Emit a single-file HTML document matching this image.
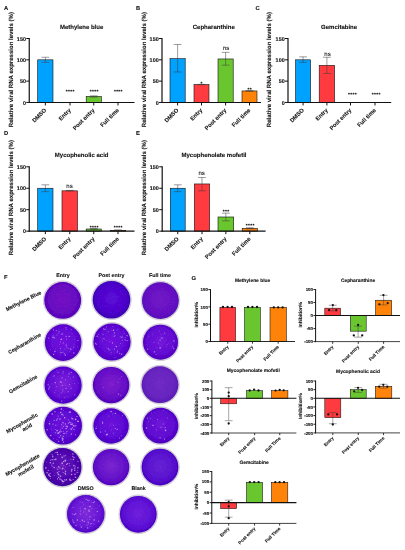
<!DOCTYPE html>
<html><head><meta charset="utf-8"><title>Figure</title>
<style>html,body{margin:0;padding:0;background:#fff}svg{display:block}text{font-family:"Liberation Sans",Arial,sans-serif;stroke:#111;stroke-width:0.1px;text-rendering:geometricPrecision}</style>
</head><body>
<svg width="405" height="550" viewBox="0 0 405 550">
<rect width="405" height="550" fill="#fff"/>
<text x="4.10" y="9.60" font-size="5.8" text-anchor="start" font-weight="bold" fill="#111" stroke="none">A</text>
<text x="13.00" y="69.60" font-size="6.05" text-anchor="middle" font-weight="bold" fill="#111" transform="rotate(-90 13.00 69.60)">Relative viral RNA expression levels (%)</text>
<text x="81.60" y="29.00" font-size="6.0" text-anchor="middle" font-weight="bold" fill="#111">Methylene blue</text>
<rect x="37.70" y="59.82" width="15.30" height="42.63" fill="#00a2ff" stroke="#111" stroke-width="0.6"/>
<line x1="45.35" y1="62.37" x2="45.35" y2="57.26" stroke="#3a3a3a" stroke-width="0.5"/>
<line x1="41.45" y1="62.37" x2="49.25" y2="62.37" stroke="#3a3a3a" stroke-width="0.5"/>
<line x1="41.45" y1="57.26" x2="49.25" y2="57.26" stroke="#3a3a3a" stroke-width="0.5"/>
<line x1="45.35" y1="102.45" x2="45.35" y2="105.45" stroke="#111" stroke-width="1.0"/>
<text x="46.65" y="110.65" font-size="5.75" text-anchor="end" font-weight="bold" fill="#111" transform="rotate(-45 46.65 110.65)">DMSO</text>
<line x1="70.00" y1="102.45" x2="70.00" y2="105.45" stroke="#111" stroke-width="1.0"/>
<text x="71.30" y="110.65" font-size="5.75" text-anchor="end" font-weight="bold" fill="#111" transform="rotate(-45 71.30 110.65)">Entry</text>
<rect x="86.20" y="96.48" width="15.10" height="5.97" fill="#6ac62e" stroke="#111" stroke-width="0.6"/>
<line x1="93.75" y1="97.12" x2="93.75" y2="95.84" stroke="#3a3a3a" stroke-width="0.5"/>
<line x1="89.85" y1="97.12" x2="97.65" y2="97.12" stroke="#3a3a3a" stroke-width="0.5"/>
<line x1="89.85" y1="95.84" x2="97.65" y2="95.84" stroke="#3a3a3a" stroke-width="0.5"/>
<line x1="93.75" y1="102.45" x2="93.75" y2="105.45" stroke="#111" stroke-width="1.0"/>
<text x="95.05" y="110.65" font-size="5.75" text-anchor="end" font-weight="bold" fill="#111" transform="rotate(-45 95.05 110.65)">Post entry</text>
<line x1="118.00" y1="102.45" x2="118.00" y2="105.45" stroke="#111" stroke-width="1.0"/>
<text x="119.30" y="110.65" font-size="5.75" text-anchor="end" font-weight="bold" fill="#111" transform="rotate(-45 119.30 110.65)">Full time</text>
<line x1="29.25" y1="37.95" x2="29.25" y2="103.00" stroke="#111" stroke-width="1.2"/>
<line x1="28.70" y1="102.45" x2="134.50" y2="102.45" stroke="#111" stroke-width="1.15"/>
<line x1="26.25" y1="102.45" x2="29.25" y2="102.45" stroke="#111" stroke-width="1.0"/>
<text x="25.95" y="104.60" font-size="5.45" text-anchor="end" font-weight="bold" fill="#111">0</text>
<line x1="26.25" y1="81.13" x2="29.25" y2="81.13" stroke="#111" stroke-width="1.0"/>
<text x="25.95" y="83.28" font-size="5.45" text-anchor="end" font-weight="bold" fill="#111">50</text>
<line x1="26.25" y1="59.82" x2="29.25" y2="59.82" stroke="#111" stroke-width="1.0"/>
<text x="25.95" y="61.97" font-size="5.45" text-anchor="end" font-weight="bold" fill="#111">100</text>
<line x1="26.25" y1="38.50" x2="29.25" y2="38.50" stroke="#111" stroke-width="1.0"/>
<text x="25.95" y="40.65" font-size="5.45" text-anchor="end" font-weight="bold" fill="#111">150</text>
<text x="70.18" y="93.33" font-size="4.8" text-anchor="middle" font-weight="bold" fill="#111" stroke="none" letter-spacing="0.35">****</text>
<text x="94.18" y="93.33" font-size="4.8" text-anchor="middle" font-weight="bold" fill="#111" stroke="none" letter-spacing="0.35">****</text>
<text x="118.38" y="93.33" font-size="4.8" text-anchor="middle" font-weight="bold" fill="#111" stroke="none" letter-spacing="0.35">****</text>
<text x="136.00" y="9.60" font-size="5.8" text-anchor="start" font-weight="bold" fill="#111" stroke="none">B</text>
<text x="146.00" y="69.60" font-size="6.05" text-anchor="middle" font-weight="bold" fill="#111" transform="rotate(-90 146.00 69.60)">Relative viral RNA expression levels (%)</text>
<text x="213.80" y="28.70" font-size="6.0" text-anchor="middle" font-weight="bold" fill="#111">Cepharanthine</text>
<rect x="170.00" y="58.67" width="15.20" height="43.78" fill="#00a2ff" stroke="#111" stroke-width="0.6"/>
<line x1="177.60" y1="71.97" x2="177.60" y2="44.47" stroke="#3a3a3a" stroke-width="0.5"/>
<line x1="173.70" y1="71.97" x2="181.50" y2="71.97" stroke="#3a3a3a" stroke-width="0.5"/>
<line x1="173.70" y1="44.47" x2="181.50" y2="44.47" stroke="#3a3a3a" stroke-width="0.5"/>
<line x1="177.60" y1="102.45" x2="177.60" y2="105.45" stroke="#111" stroke-width="1.0"/>
<text x="178.90" y="110.65" font-size="5.75" text-anchor="end" font-weight="bold" fill="#111" transform="rotate(-45 178.90 110.65)">DMSO</text>
<rect x="194.00" y="84.54" width="15.00" height="17.91" fill="#ff3b3f" stroke="#111" stroke-width="0.6"/>
<line x1="201.50" y1="84.76" x2="201.50" y2="84.33" stroke="#3a3a3a" stroke-width="0.5"/>
<line x1="197.60" y1="84.76" x2="205.40" y2="84.76" stroke="#3a3a3a" stroke-width="0.5"/>
<line x1="197.60" y1="84.33" x2="205.40" y2="84.33" stroke="#3a3a3a" stroke-width="0.5"/>
<line x1="201.50" y1="102.45" x2="201.50" y2="105.45" stroke="#111" stroke-width="1.0"/>
<text x="202.80" y="110.65" font-size="5.75" text-anchor="end" font-weight="bold" fill="#111" transform="rotate(-45 202.80 110.65)">Entry</text>
<rect x="218.00" y="58.96" width="15.20" height="43.49" fill="#6ac62e" stroke="#111" stroke-width="0.6"/>
<line x1="225.60" y1="65.15" x2="225.60" y2="52.36" stroke="#3a3a3a" stroke-width="0.5"/>
<line x1="221.70" y1="65.15" x2="229.50" y2="65.15" stroke="#3a3a3a" stroke-width="0.5"/>
<line x1="221.70" y1="52.36" x2="229.50" y2="52.36" stroke="#3a3a3a" stroke-width="0.5"/>
<line x1="225.60" y1="102.45" x2="225.60" y2="105.45" stroke="#111" stroke-width="1.0"/>
<text x="226.90" y="110.65" font-size="5.75" text-anchor="end" font-weight="bold" fill="#111" transform="rotate(-45 226.90 110.65)">Post entry</text>
<rect x="242.00" y="90.94" width="15.00" height="11.51" fill="#ff8308" stroke="#111" stroke-width="0.6"/>
<line x1="249.50" y1="91.37" x2="249.50" y2="90.51" stroke="#3a3a3a" stroke-width="0.5"/>
<line x1="245.60" y1="91.37" x2="253.40" y2="91.37" stroke="#3a3a3a" stroke-width="0.5"/>
<line x1="245.60" y1="90.51" x2="253.40" y2="90.51" stroke="#3a3a3a" stroke-width="0.5"/>
<line x1="249.50" y1="102.45" x2="249.50" y2="105.45" stroke="#111" stroke-width="1.0"/>
<text x="250.80" y="110.65" font-size="5.75" text-anchor="end" font-weight="bold" fill="#111" transform="rotate(-45 250.80 110.65)">Full time</text>
<line x1="162.00" y1="37.95" x2="162.00" y2="103.00" stroke="#111" stroke-width="1.2"/>
<line x1="161.45" y1="102.45" x2="261.00" y2="102.45" stroke="#111" stroke-width="1.15"/>
<line x1="159.00" y1="102.45" x2="162.00" y2="102.45" stroke="#111" stroke-width="1.0"/>
<text x="158.70" y="104.60" font-size="5.45" text-anchor="end" font-weight="bold" fill="#111">0</text>
<line x1="159.00" y1="81.13" x2="162.00" y2="81.13" stroke="#111" stroke-width="1.0"/>
<text x="158.70" y="83.28" font-size="5.45" text-anchor="end" font-weight="bold" fill="#111">50</text>
<line x1="159.00" y1="59.82" x2="162.00" y2="59.82" stroke="#111" stroke-width="1.0"/>
<text x="158.70" y="61.97" font-size="5.45" text-anchor="end" font-weight="bold" fill="#111">100</text>
<line x1="159.00" y1="38.50" x2="162.00" y2="38.50" stroke="#111" stroke-width="1.0"/>
<text x="158.70" y="40.65" font-size="5.45" text-anchor="end" font-weight="bold" fill="#111">150</text>
<text x="226.10" y="49.50" font-size="6" text-anchor="middle" font-weight="normal" fill="#111" stroke="none">ns</text>
<text x="201.68" y="85.03" font-size="4.8" text-anchor="middle" font-weight="bold" fill="#111" stroke="none" letter-spacing="0.35">*</text>
<text x="249.78" y="90.53" font-size="4.8" text-anchor="middle" font-weight="bold" fill="#111" stroke="none" letter-spacing="0.35">**</text>
<text x="255.50" y="9.60" font-size="5.8" text-anchor="start" font-weight="bold" fill="#111" stroke="none">C</text>
<text x="271.00" y="69.60" font-size="6.05" text-anchor="middle" font-weight="bold" fill="#111" transform="rotate(-90 271.00 69.60)">Relative viral RNA expression levels (%)</text>
<text x="339.10" y="28.60" font-size="6.0" text-anchor="middle" font-weight="bold" fill="#111">Gemcitabine</text>
<rect x="295.50" y="59.82" width="15.10" height="42.63" fill="#00a2ff" stroke="#111" stroke-width="0.6"/>
<line x1="303.05" y1="62.37" x2="303.05" y2="56.83" stroke="#3a3a3a" stroke-width="0.5"/>
<line x1="299.15" y1="62.37" x2="306.95" y2="62.37" stroke="#3a3a3a" stroke-width="0.5"/>
<line x1="299.15" y1="56.83" x2="306.95" y2="56.83" stroke="#3a3a3a" stroke-width="0.5"/>
<line x1="303.05" y1="102.45" x2="303.05" y2="105.45" stroke="#111" stroke-width="1.0"/>
<text x="304.35" y="110.65" font-size="5.75" text-anchor="end" font-weight="bold" fill="#111" transform="rotate(-45 304.35 110.65)">DMSO</text>
<rect x="319.20" y="65.36" width="15.40" height="37.09" fill="#ff3b3f" stroke="#111" stroke-width="0.6"/>
<line x1="326.90" y1="73.46" x2="326.90" y2="57.26" stroke="#3a3a3a" stroke-width="0.5"/>
<line x1="323.00" y1="73.46" x2="330.80" y2="73.46" stroke="#3a3a3a" stroke-width="0.5"/>
<line x1="323.00" y1="57.26" x2="330.80" y2="57.26" stroke="#3a3a3a" stroke-width="0.5"/>
<line x1="326.90" y1="102.45" x2="326.90" y2="105.45" stroke="#111" stroke-width="1.0"/>
<text x="328.20" y="110.65" font-size="5.75" text-anchor="end" font-weight="bold" fill="#111" transform="rotate(-45 328.20 110.65)">Entry</text>
<line x1="350.50" y1="102.45" x2="350.50" y2="105.45" stroke="#111" stroke-width="1.0"/>
<text x="351.80" y="110.65" font-size="5.75" text-anchor="end" font-weight="bold" fill="#111" transform="rotate(-45 351.80 110.65)">Post entry</text>
<line x1="375.00" y1="102.45" x2="375.00" y2="105.45" stroke="#111" stroke-width="1.0"/>
<text x="376.30" y="110.65" font-size="5.75" text-anchor="end" font-weight="bold" fill="#111" transform="rotate(-45 376.30 110.65)">Full time</text>
<line x1="288.00" y1="37.95" x2="288.00" y2="103.00" stroke="#111" stroke-width="1.2"/>
<line x1="287.45" y1="102.45" x2="391.20" y2="102.45" stroke="#111" stroke-width="1.15"/>
<line x1="285.00" y1="102.45" x2="288.00" y2="102.45" stroke="#111" stroke-width="1.0"/>
<text x="284.70" y="104.60" font-size="5.45" text-anchor="end" font-weight="bold" fill="#111">0</text>
<line x1="285.00" y1="81.13" x2="288.00" y2="81.13" stroke="#111" stroke-width="1.0"/>
<text x="284.70" y="83.28" font-size="5.45" text-anchor="end" font-weight="bold" fill="#111">50</text>
<line x1="285.00" y1="59.82" x2="288.00" y2="59.82" stroke="#111" stroke-width="1.0"/>
<text x="284.70" y="61.97" font-size="5.45" text-anchor="end" font-weight="bold" fill="#111">100</text>
<line x1="285.00" y1="38.50" x2="288.00" y2="38.50" stroke="#111" stroke-width="1.0"/>
<text x="284.70" y="40.65" font-size="5.45" text-anchor="end" font-weight="bold" fill="#111">150</text>
<text x="327.50" y="55.50" font-size="6" text-anchor="middle" font-weight="normal" fill="#111" stroke="none">ns</text>
<text x="352.48" y="96.33" font-size="4.8" text-anchor="middle" font-weight="bold" fill="#111" stroke="none" letter-spacing="0.35">****</text>
<text x="376.18" y="96.33" font-size="4.8" text-anchor="middle" font-weight="bold" fill="#111" stroke="none" letter-spacing="0.35">****</text>
<text x="4.10" y="135.10" font-size="5.8" text-anchor="start" font-weight="bold" fill="#111" stroke="none">D</text>
<text x="13.00" y="197.60" font-size="6.05" text-anchor="middle" font-weight="bold" fill="#111" transform="rotate(-90 13.00 197.60)">Relative viral RNA expression levels (%)</text>
<text x="81.70" y="157.00" font-size="6.0" text-anchor="middle" font-weight="bold" fill="#111">Mycophenolic acid</text>
<rect x="37.70" y="188.25" width="15.30" height="42.90" fill="#00a2ff" stroke="#111" stroke-width="0.6"/>
<line x1="45.35" y1="191.68" x2="45.35" y2="184.82" stroke="#3a3a3a" stroke-width="0.5"/>
<line x1="41.45" y1="191.68" x2="49.25" y2="191.68" stroke="#3a3a3a" stroke-width="0.5"/>
<line x1="41.45" y1="184.82" x2="49.25" y2="184.82" stroke="#3a3a3a" stroke-width="0.5"/>
<line x1="45.35" y1="231.15" x2="45.35" y2="234.15" stroke="#111" stroke-width="1.0"/>
<text x="46.65" y="239.35" font-size="5.75" text-anchor="end" font-weight="bold" fill="#111" transform="rotate(-45 46.65 239.35)">DMSO</text>
<rect x="62.00" y="190.82" width="15.50" height="40.33" fill="#ff3b3f" stroke="#111" stroke-width="0.6"/>
<line x1="69.75" y1="191.04" x2="69.75" y2="190.40" stroke="#3a3a3a" stroke-width="0.5"/>
<line x1="65.85" y1="191.04" x2="73.65" y2="191.04" stroke="#3a3a3a" stroke-width="0.5"/>
<line x1="65.85" y1="190.40" x2="73.65" y2="190.40" stroke="#3a3a3a" stroke-width="0.5"/>
<line x1="69.75" y1="231.15" x2="69.75" y2="234.15" stroke="#111" stroke-width="1.0"/>
<text x="71.05" y="239.35" font-size="5.75" text-anchor="end" font-weight="bold" fill="#111" transform="rotate(-45 71.05 239.35)">Entry</text>
<rect x="86.20" y="229.00" width="15.10" height="2.14" fill="#6ac62e" stroke="#111" stroke-width="0.6"/>
<line x1="93.75" y1="229.22" x2="93.75" y2="228.58" stroke="#3a3a3a" stroke-width="0.5"/>
<line x1="89.85" y1="229.22" x2="97.65" y2="229.22" stroke="#3a3a3a" stroke-width="0.5"/>
<line x1="89.85" y1="228.58" x2="97.65" y2="228.58" stroke="#3a3a3a" stroke-width="0.5"/>
<line x1="93.75" y1="231.15" x2="93.75" y2="234.15" stroke="#111" stroke-width="1.0"/>
<text x="95.05" y="239.35" font-size="5.75" text-anchor="end" font-weight="bold" fill="#111" transform="rotate(-45 95.05 239.35)">Post entry</text>
<rect x="110.30" y="230.29" width="15.40" height="0.86" fill="#ff8308" stroke="#111" stroke-width="0.6"/>
<line x1="118.00" y1="230.51" x2="118.00" y2="229.86" stroke="#3a3a3a" stroke-width="0.5"/>
<line x1="114.10" y1="230.51" x2="121.90" y2="230.51" stroke="#3a3a3a" stroke-width="0.5"/>
<line x1="114.10" y1="229.86" x2="121.90" y2="229.86" stroke="#3a3a3a" stroke-width="0.5"/>
<line x1="118.00" y1="231.15" x2="118.00" y2="234.15" stroke="#111" stroke-width="1.0"/>
<text x="119.30" y="239.35" font-size="5.75" text-anchor="end" font-weight="bold" fill="#111" transform="rotate(-45 119.30 239.35)">Full time</text>
<line x1="29.25" y1="166.25" x2="29.25" y2="231.70" stroke="#111" stroke-width="1.2"/>
<line x1="28.70" y1="231.15" x2="134.50" y2="231.15" stroke="#111" stroke-width="1.15"/>
<line x1="26.25" y1="231.15" x2="29.25" y2="231.15" stroke="#111" stroke-width="1.0"/>
<text x="25.95" y="233.30" font-size="5.45" text-anchor="end" font-weight="bold" fill="#111">0</text>
<line x1="26.25" y1="209.70" x2="29.25" y2="209.70" stroke="#111" stroke-width="1.0"/>
<text x="25.95" y="211.85" font-size="5.45" text-anchor="end" font-weight="bold" fill="#111">50</text>
<line x1="26.25" y1="188.25" x2="29.25" y2="188.25" stroke="#111" stroke-width="1.0"/>
<text x="25.95" y="190.40" font-size="5.45" text-anchor="end" font-weight="bold" fill="#111">100</text>
<line x1="26.25" y1="166.80" x2="29.25" y2="166.80" stroke="#111" stroke-width="1.0"/>
<text x="25.95" y="168.95" font-size="5.45" text-anchor="end" font-weight="bold" fill="#111">150</text>
<text x="69.50" y="187.50" font-size="6" text-anchor="middle" font-weight="normal" fill="#111" stroke="none">ns</text>
<text x="94.18" y="228.83" font-size="4.8" text-anchor="middle" font-weight="bold" fill="#111" stroke="none" letter-spacing="0.35">****</text>
<text x="118.18" y="228.83" font-size="4.8" text-anchor="middle" font-weight="bold" fill="#111" stroke="none" letter-spacing="0.35">****</text>
<text x="136.00" y="135.10" font-size="5.8" text-anchor="start" font-weight="bold" fill="#111" stroke="none">E</text>
<text x="146.00" y="197.60" font-size="6.05" text-anchor="middle" font-weight="bold" fill="#111" transform="rotate(-90 146.00 197.60)">Relative viral RNA expression levels (%)</text>
<text x="214.00" y="157.00" font-size="6.0" text-anchor="middle" font-weight="bold" fill="#111">Mycophenolate mofetil</text>
<rect x="170.30" y="188.25" width="14.90" height="42.90" fill="#00a2ff" stroke="#111" stroke-width="0.6"/>
<line x1="177.75" y1="191.68" x2="177.75" y2="184.82" stroke="#3a3a3a" stroke-width="0.5"/>
<line x1="173.85" y1="191.68" x2="181.65" y2="191.68" stroke="#3a3a3a" stroke-width="0.5"/>
<line x1="173.85" y1="184.82" x2="181.65" y2="184.82" stroke="#3a3a3a" stroke-width="0.5"/>
<line x1="177.75" y1="231.15" x2="177.75" y2="234.15" stroke="#111" stroke-width="1.0"/>
<text x="179.05" y="239.35" font-size="5.75" text-anchor="end" font-weight="bold" fill="#111" transform="rotate(-45 179.05 239.35)">DMSO</text>
<rect x="194.30" y="183.96" width="15.40" height="47.19" fill="#ff3b3f" stroke="#111" stroke-width="0.6"/>
<line x1="202.00" y1="190.82" x2="202.00" y2="177.53" stroke="#3a3a3a" stroke-width="0.5"/>
<line x1="198.10" y1="190.82" x2="205.90" y2="190.82" stroke="#3a3a3a" stroke-width="0.5"/>
<line x1="198.10" y1="177.53" x2="205.90" y2="177.53" stroke="#3a3a3a" stroke-width="0.5"/>
<line x1="202.00" y1="231.15" x2="202.00" y2="234.15" stroke="#111" stroke-width="1.0"/>
<text x="203.30" y="239.35" font-size="5.75" text-anchor="end" font-weight="bold" fill="#111" transform="rotate(-45 203.30 239.35)">Entry</text>
<rect x="218.00" y="216.99" width="15.70" height="14.16" fill="#6ac62e" stroke="#111" stroke-width="0.6"/>
<line x1="225.85" y1="220.85" x2="225.85" y2="213.13" stroke="#3a3a3a" stroke-width="0.5"/>
<line x1="221.95" y1="220.85" x2="229.75" y2="220.85" stroke="#3a3a3a" stroke-width="0.5"/>
<line x1="221.95" y1="213.13" x2="229.75" y2="213.13" stroke="#3a3a3a" stroke-width="0.5"/>
<line x1="225.85" y1="231.15" x2="225.85" y2="234.15" stroke="#111" stroke-width="1.0"/>
<text x="227.15" y="239.35" font-size="5.75" text-anchor="end" font-weight="bold" fill="#111" transform="rotate(-45 227.15 239.35)">Post entry</text>
<rect x="242.20" y="228.36" width="15.20" height="2.79" fill="#ff8308" stroke="#111" stroke-width="0.6"/>
<line x1="249.80" y1="228.79" x2="249.80" y2="227.72" stroke="#3a3a3a" stroke-width="0.5"/>
<line x1="245.90" y1="228.79" x2="253.70" y2="228.79" stroke="#3a3a3a" stroke-width="0.5"/>
<line x1="245.90" y1="227.72" x2="253.70" y2="227.72" stroke="#3a3a3a" stroke-width="0.5"/>
<line x1="249.80" y1="231.15" x2="249.80" y2="234.15" stroke="#111" stroke-width="1.0"/>
<text x="251.10" y="239.35" font-size="5.75" text-anchor="end" font-weight="bold" fill="#111" transform="rotate(-45 251.10 239.35)">Full time</text>
<line x1="162.20" y1="166.25" x2="162.20" y2="231.70" stroke="#111" stroke-width="1.2"/>
<line x1="161.65" y1="231.15" x2="265.60" y2="231.15" stroke="#111" stroke-width="1.15"/>
<line x1="159.20" y1="231.15" x2="162.20" y2="231.15" stroke="#111" stroke-width="1.0"/>
<text x="158.90" y="233.30" font-size="5.45" text-anchor="end" font-weight="bold" fill="#111">0</text>
<line x1="159.20" y1="209.70" x2="162.20" y2="209.70" stroke="#111" stroke-width="1.0"/>
<text x="158.90" y="211.85" font-size="5.45" text-anchor="end" font-weight="bold" fill="#111">50</text>
<line x1="159.20" y1="188.25" x2="162.20" y2="188.25" stroke="#111" stroke-width="1.0"/>
<text x="158.90" y="190.40" font-size="5.45" text-anchor="end" font-weight="bold" fill="#111">100</text>
<line x1="159.20" y1="166.80" x2="162.20" y2="166.80" stroke="#111" stroke-width="1.0"/>
<text x="158.90" y="168.95" font-size="5.45" text-anchor="end" font-weight="bold" fill="#111">150</text>
<text x="201.70" y="175.00" font-size="6" text-anchor="middle" font-weight="normal" fill="#111" stroke="none">ns</text>
<text x="226.18" y="212.63" font-size="4.8" text-anchor="middle" font-weight="bold" fill="#111" stroke="none" letter-spacing="0.35">***</text>
<text x="250.18" y="227.03" font-size="4.8" text-anchor="middle" font-weight="bold" fill="#111" stroke="none" letter-spacing="0.35">****</text>
<text x="4.10" y="278.70" font-size="5.8" text-anchor="start" font-weight="bold" fill="#111" stroke="none">F</text>
<text x="63.00" y="276.60" font-size="5.3" text-anchor="middle" font-weight="bold" fill="#111">Entry</text>
<text x="111.50" y="276.60" font-size="5.3" text-anchor="middle" font-weight="bold" fill="#111">Post entry</text>
<text x="160.00" y="276.60" font-size="5.3" text-anchor="middle" font-weight="bold" fill="#111">Full time</text>
<defs>
<filter id="bl" x="-5%" y="-5%" width="110%" height="110%"><feGaussianBlur stdDeviation="0.35"/></filter>
<filter id="tx" x="0" y="0" width="100%" height="100%"><feTurbulence type="fractalNoise" baseFrequency="0.5" numOctaves="2" seed="11" result="n"/><feColorMatrix in="n" type="matrix" values="0 0 0 0 0.16  0 0 0 0 0  0 0 0 0 0.6  0.7 0 0 0 -0.25" result="w"/><feComposite in="w" in2="SourceGraphic" operator="in" result="wc"/><feMerge><feMergeNode in="SourceGraphic"/><feMergeNode in="wc"/></feMerge></filter>
<radialGradient id="g1" cx="50%" cy="47%" r="53%"><stop offset="0" stop-color="#7519c3"/><stop offset="0.72" stop-color="#6713c0"/><stop offset="1" stop-color="#520cb8"/></radialGradient>
<radialGradient id="g2" cx="50%" cy="47%" r="53%"><stop offset="0" stop-color="#5b15d8"/><stop offset="0.72" stop-color="#480dcb"/><stop offset="1" stop-color="#3105ae"/></radialGradient>
<radialGradient id="g3" cx="50%" cy="47%" r="53%"><stop offset="0" stop-color="#731dc6"/><stop offset="0.72" stop-color="#6518c2"/><stop offset="1" stop-color="#5213b4"/></radialGradient>
<radialGradient id="g4" cx="50%" cy="47%" r="53%"><stop offset="0" stop-color="#7519e0"/><stop offset="0.72" stop-color="#6011d5"/><stop offset="1" stop-color="#4c05be"/></radialGradient>
<radialGradient id="g5" cx="50%" cy="47%" r="53%"><stop offset="0" stop-color="#7319e0"/><stop offset="0.72" stop-color="#5e11d5"/><stop offset="1" stop-color="#4805bc"/></radialGradient>
<radialGradient id="g6" cx="50%" cy="47%" r="53%"><stop offset="0" stop-color="#751ddc"/><stop offset="0.72" stop-color="#6114d3"/><stop offset="1" stop-color="#4c06bc"/></radialGradient>
<radialGradient id="g7" cx="50%" cy="47%" r="53%"><stop offset="0" stop-color="#8427dc"/><stop offset="0.72" stop-color="#6013d5"/><stop offset="1" stop-color="#450ac3"/></radialGradient>
<radialGradient id="g8" cx="50%" cy="47%" r="53%"><stop offset="0" stop-color="#8022cd"/><stop offset="0.72" stop-color="#6716c7"/><stop offset="1" stop-color="#4c0cb8"/></radialGradient>
<radialGradient id="g9" cx="50%" cy="47%" r="53%"><stop offset="0" stop-color="#712ec3"/><stop offset="0.72" stop-color="#6729be"/><stop offset="1" stop-color="#5620b0"/></radialGradient>
<radialGradient id="g10" cx="50%" cy="47%" r="53%"><stop offset="0" stop-color="#6f1bdc"/><stop offset="0.72" stop-color="#5a11d3"/><stop offset="1" stop-color="#4706be"/></radialGradient>
<radialGradient id="g11" cx="50%" cy="47%" r="53%"><stop offset="0" stop-color="#6f1bde"/><stop offset="0.72" stop-color="#5a11d5"/><stop offset="1" stop-color="#4506be"/></radialGradient>
<radialGradient id="g12" cx="50%" cy="47%" r="53%"><stop offset="0" stop-color="#711dda"/><stop offset="0.72" stop-color="#5c13d1"/><stop offset="1" stop-color="#4708bc"/></radialGradient>
<radialGradient id="g13" cx="50%" cy="47%" r="53%"><stop offset="0" stop-color="#671bba"/><stop offset="0.72" stop-color="#4a0faa"/><stop offset="1" stop-color="#370a95"/></radialGradient>
<radialGradient id="g14" cx="50%" cy="47%" r="53%"><stop offset="0" stop-color="#7c29d1"/><stop offset="0.72" stop-color="#6318c9"/><stop offset="1" stop-color="#4e0dbc"/></radialGradient>
<radialGradient id="g15" cx="50%" cy="47%" r="53%"><stop offset="0" stop-color="#6726d5"/><stop offset="0.72" stop-color="#5618cf"/><stop offset="1" stop-color="#410cbe"/></radialGradient>
<radialGradient id="g16" cx="50%" cy="47%" r="53%"><stop offset="0" stop-color="#8430dc"/><stop offset="0.72" stop-color="#661cd6"/><stop offset="1" stop-color="#4c0ec4"/></radialGradient>
<radialGradient id="g17" cx="50%" cy="47%" r="53%"><stop offset="0" stop-color="#7024de"/><stop offset="0.72" stop-color="#5c18d6"/><stop offset="1" stop-color="#460cc2"/></radialGradient>
</defs>
<circle cx="62.7" cy="300.4" r="19.4" fill="#dad7df" stroke="#bebac6" stroke-width="0.6"/>
<circle cx="111.5" cy="299.8" r="19.8" fill="#dad7df" stroke="#bebac6" stroke-width="0.6"/>
<circle cx="160.4" cy="300.6" r="19.4" fill="#dad7df" stroke="#bebac6" stroke-width="0.6"/>
<circle cx="63.2" cy="342.6" r="19.3" fill="#dad7df" stroke="#bebac6" stroke-width="0.6"/>
<circle cx="112.0" cy="342.0" r="19.6" fill="#dad7df" stroke="#bebac6" stroke-width="0.6"/>
<circle cx="160.5" cy="342.2" r="18.5" fill="#dad7df" stroke="#bebac6" stroke-width="0.6"/>
<circle cx="63.1" cy="385.1" r="19.6" fill="#dad7df" stroke="#bebac6" stroke-width="0.6"/>
<circle cx="111.1" cy="385.1" r="19.2" fill="#dad7df" stroke="#bebac6" stroke-width="0.6"/>
<circle cx="160.0" cy="384.7" r="19.4" fill="#dad7df" stroke="#bebac6" stroke-width="0.6"/>
<circle cx="63.1" cy="425.7" r="19.9" fill="#dad7df" stroke="#bebac6" stroke-width="0.6"/>
<circle cx="111.1" cy="426.0" r="18.7" fill="#dad7df" stroke="#bebac6" stroke-width="0.6"/>
<circle cx="160.5" cy="425.7" r="18.9" fill="#dad7df" stroke="#bebac6" stroke-width="0.6"/>
<circle cx="62.4" cy="467.1" r="20.1" fill="#dad7df" stroke="#bebac6" stroke-width="0.6"/>
<circle cx="111.1" cy="467.1" r="19.2" fill="#dad7df" stroke="#bebac6" stroke-width="0.6"/>
<circle cx="160.0" cy="467.1" r="19.4" fill="#dad7df" stroke="#bebac6" stroke-width="0.6"/>
<text x="24.30" y="302.50" font-size="5.3" text-anchor="middle" font-weight="bold" fill="#111" transform="rotate(-26.5 24.30 302.50)">Methylene Blue</text>
<text x="25.50" y="345.00" font-size="5.3" text-anchor="middle" font-weight="bold" fill="#111" transform="rotate(-30 25.50 345.00)">Cepharanthine</text>
<text x="24.00" y="385.70" font-size="5.3" text-anchor="middle" font-weight="bold" fill="#111" transform="rotate(-30 24.00 385.70)">Gemcitabine</text>
<text x="22.90" y="424.60" font-size="5.3" text-anchor="middle" font-weight="bold" fill="#111" transform="rotate(-30 22.90 424.60)">Mycophenolic</text>
<text x="28.00" y="428.80" font-size="5.3" text-anchor="middle" font-weight="bold" fill="#111" transform="rotate(-30 28.00 428.80)">acid</text>
<text x="23.40" y="466.50" font-size="5.3" text-anchor="middle" font-weight="bold" fill="#111" transform="rotate(-30 23.40 466.50)">Mycophenolate</text>
<text x="26.70" y="472.20" font-size="5.3" text-anchor="middle" font-weight="bold" fill="#111" transform="rotate(-30 26.70 472.20)">mofetil</text>
<circle cx="85.8" cy="513.9" r="19.8" fill="#dad7df" stroke="#bebac6" stroke-width="0.6"/>
<circle cx="138.3" cy="514.3" r="19.4" fill="#dad7df" stroke="#bebac6" stroke-width="0.6"/>
<g filter="url(#tx)"><circle cx="62.7" cy="300.4" r="18.4" fill="url(#g1)"/><circle cx="111.5" cy="299.8" r="18.799999999999997" fill="url(#g2)"/><circle cx="160.4" cy="300.6" r="18.4" fill="url(#g3)"/><circle cx="63.2" cy="342.6" r="18.299999999999997" fill="url(#g4)"/><circle cx="112.0" cy="342.0" r="18.599999999999998" fill="url(#g5)"/><circle cx="160.5" cy="342.2" r="17.5" fill="url(#g6)"/><circle cx="63.1" cy="385.1" r="18.599999999999998" fill="url(#g7)"/><circle cx="111.1" cy="385.1" r="18.2" fill="url(#g8)"/><circle cx="160.0" cy="384.7" r="18.4" fill="url(#g9)"/><circle cx="63.1" cy="425.7" r="18.9" fill="url(#g10)"/><circle cx="111.1" cy="426.0" r="17.7" fill="url(#g11)"/><circle cx="160.5" cy="425.7" r="17.9" fill="url(#g12)"/><circle cx="62.4" cy="467.1" r="19.099999999999998" fill="url(#g13)"/><circle cx="111.1" cy="467.1" r="18.2" fill="url(#g14)"/><circle cx="160.0" cy="467.1" r="18.4" fill="url(#g15)"/><circle cx="85.8" cy="513.9" r="18.8" fill="url(#g16)"/><circle cx="138.3" cy="514.3" r="18.4" fill="url(#g17)"/></g>
<g fill="#dcc4ff" opacity="0.75" filter="url(#bl)"><circle cx="60.4" cy="348.2" r="0.53"/><circle cx="73.8" cy="347.8" r="0.43"/><circle cx="73.9" cy="346.7" r="0.31"/><circle cx="59.3" cy="344.3" r="0.33"/><circle cx="50.2" cy="349.3" r="0.34"/><circle cx="65.3" cy="355.2" r="0.63"/><circle cx="54.2" cy="337.9" r="0.64"/><circle cx="77.5" cy="346.9" r="0.40"/><circle cx="66.6" cy="347.0" r="0.41"/><circle cx="66.0" cy="336.3" r="0.50"/><circle cx="56.9" cy="335.1" r="0.49"/><circle cx="66.8" cy="344.1" r="0.37"/><circle cx="58.7" cy="333.1" r="0.41"/><circle cx="53.9" cy="337.0" r="0.40"/><circle cx="66.9" cy="329.7" r="0.39"/><circle cx="52.8" cy="337.3" r="0.61"/><circle cx="62.1" cy="334.0" r="0.64"/><circle cx="70.9" cy="349.6" r="0.56"/><circle cx="69.7" cy="351.8" r="0.31"/><circle cx="56.3" cy="330.3" r="0.50"/><circle cx="69.6" cy="336.2" r="0.54"/><circle cx="53.0" cy="335.7" r="0.46"/><circle cx="71.6" cy="329.4" r="0.47"/><circle cx="61.2" cy="339.2" r="0.55"/><circle cx="53.5" cy="329.8" r="0.59"/><circle cx="61.0" cy="352.4" r="0.53"/><circle cx="74.0" cy="344.1" r="0.36"/><circle cx="66.1" cy="345.2" r="0.57"/><circle cx="68.7" cy="348.4" r="0.44"/><circle cx="66.4" cy="339.3" r="0.46"/><circle cx="48.8" cy="338.0" r="0.59"/><circle cx="68.8" cy="336.2" r="0.45"/><circle cx="53.6" cy="354.3" r="0.64"/><circle cx="67.1" cy="348.1" r="0.38"/><circle cx="64.4" cy="353.8" r="0.51"/><circle cx="63.1" cy="343.6" r="0.45"/><circle cx="54.9" cy="351.5" r="0.63"/><circle cx="59.0" cy="331.8" r="0.52"/><circle cx="61.5" cy="339.3" r="0.61"/><circle cx="66.0" cy="327.8" r="0.58"/><circle cx="55.3" cy="349.0" r="0.34"/><circle cx="60.5" cy="339.6" r="0.32"/><circle cx="64.9" cy="348.9" r="0.42"/><circle cx="63.4" cy="342.7" r="0.35"/><circle cx="71.0" cy="348.4" r="0.31"/><circle cx="72.1" cy="333.6" r="0.35"/><circle cx="63.1" cy="352.1" r="0.43"/><circle cx="73.8" cy="352.9" r="0.65"/><circle cx="52.3" cy="345.0" r="0.33"/><circle cx="70.7" cy="348.2" r="0.39"/><circle cx="66.3" cy="336.9" r="0.31"/><circle cx="74.4" cy="339.1" r="0.35"/><circle cx="60.6" cy="341.9" r="0.48"/><circle cx="78.0" cy="340.6" r="0.54"/><circle cx="62.5" cy="352.3" r="0.36"/><circle cx="113.6" cy="330.1" r="0.57"/><circle cx="108.3" cy="348.8" r="0.58"/><circle cx="127.1" cy="340.6" r="0.58"/><circle cx="117.9" cy="329.2" r="0.38"/><circle cx="102.3" cy="340.9" r="0.31"/><circle cx="120.5" cy="343.5" r="0.39"/><circle cx="106.3" cy="327.0" r="0.46"/><circle cx="127.0" cy="335.7" r="0.63"/><circle cx="106.9" cy="347.8" r="0.38"/><circle cx="114.4" cy="349.0" r="0.52"/><circle cx="124.2" cy="333.2" r="0.47"/><circle cx="103.6" cy="330.0" r="0.33"/><circle cx="103.7" cy="328.8" r="0.57"/><circle cx="112.0" cy="330.7" r="0.36"/><circle cx="114.3" cy="332.8" r="0.58"/><circle cx="122.2" cy="340.2" r="0.44"/><circle cx="125.2" cy="337.4" r="0.36"/><circle cx="116.5" cy="346.6" r="0.62"/><circle cx="114.2" cy="336.1" r="0.59"/><circle cx="125.2" cy="340.4" r="0.42"/><circle cx="106.3" cy="340.2" r="0.30"/><circle cx="125.0" cy="339.6" r="0.48"/><circle cx="121.9" cy="337.6" r="0.61"/><circle cx="115.5" cy="335.3" r="0.39"/><circle cx="109.9" cy="349.8" r="0.51"/><circle cx="111.4" cy="352.6" r="0.35"/><circle cx="120.2" cy="336.8" r="0.46"/><circle cx="98.5" cy="334.2" r="0.45"/><circle cx="122.1" cy="336.3" r="0.49"/><circle cx="109.8" cy="341.7" r="0.45"/><circle cx="112.4" cy="342.9" r="0.58"/><circle cx="117.3" cy="352.0" r="0.55"/><circle cx="103.2" cy="338.7" r="0.48"/><circle cx="98.3" cy="337.0" r="0.34"/><circle cx="104.4" cy="339.0" r="0.40"/><circle cx="113.6" cy="330.4" r="0.50"/><circle cx="113.0" cy="326.4" r="0.46"/><circle cx="103.1" cy="334.4" r="0.48"/><circle cx="108.1" cy="331.7" r="0.49"/><circle cx="96.2" cy="344.2" r="0.54"/><circle cx="123.4" cy="330.9" r="0.39"/><circle cx="97.2" cy="336.2" r="0.59"/><circle cx="115.7" cy="346.3" r="0.45"/><circle cx="119.2" cy="345.5" r="0.33"/><circle cx="105.0" cy="329.3" r="0.61"/><circle cx="119.8" cy="353.5" r="0.53"/><circle cx="121.6" cy="354.1" r="0.64"/><circle cx="115.0" cy="357.7" r="0.44"/><circle cx="95.7" cy="343.3" r="0.59"/><circle cx="117.7" cy="351.1" r="0.48"/><circle cx="156.9" cy="347.9" r="0.43"/><circle cx="160.1" cy="340.1" r="0.52"/><circle cx="158.6" cy="343.0" r="0.43"/><circle cx="152.7" cy="334.5" r="0.33"/><circle cx="174.0" cy="340.9" r="0.69"/><circle cx="166.7" cy="347.0" r="0.32"/><circle cx="161.9" cy="334.4" r="0.35"/><circle cx="147.6" cy="349.1" r="0.63"/><circle cx="160.2" cy="348.1" r="0.67"/><circle cx="148.9" cy="336.7" r="0.34"/><circle cx="172.4" cy="346.7" r="0.47"/><circle cx="173.8" cy="348.7" r="0.55"/><circle cx="161.9" cy="338.0" r="0.64"/><circle cx="173.5" cy="348.0" r="0.48"/><circle cx="154.5" cy="351.8" r="0.67"/><circle cx="159.9" cy="347.7" r="0.51"/><circle cx="160.9" cy="347.2" r="0.36"/><circle cx="167.0" cy="344.3" r="0.42"/><circle cx="156.0" cy="354.7" r="0.42"/><circle cx="154.0" cy="342.2" r="0.44"/><circle cx="168.1" cy="343.1" r="0.31"/><circle cx="159.3" cy="330.9" r="0.38"/><circle cx="145.9" cy="344.5" r="0.34"/><circle cx="164.7" cy="333.1" r="0.50"/><circle cx="68.3" cy="376.2" r="0.45"/><circle cx="56.9" cy="370.1" r="0.40"/><circle cx="69.9" cy="373.1" r="0.49"/><circle cx="55.1" cy="390.5" r="0.32"/><circle cx="66.1" cy="388.3" r="0.52"/><circle cx="62.9" cy="391.7" r="0.33"/><circle cx="71.4" cy="372.2" r="0.50"/><circle cx="61.5" cy="393.0" r="0.39"/><circle cx="56.8" cy="386.7" r="0.43"/><circle cx="61.8" cy="401.1" r="0.59"/><circle cx="55.3" cy="382.7" r="0.59"/><circle cx="59.5" cy="394.2" r="0.30"/><circle cx="54.8" cy="392.7" r="0.45"/><circle cx="66.6" cy="396.2" r="0.30"/><circle cx="62.7" cy="390.0" r="0.42"/><circle cx="65.5" cy="385.7" r="0.39"/><circle cx="64.5" cy="397.6" r="0.46"/><circle cx="63.1" cy="371.8" r="0.51"/><circle cx="70.5" cy="378.1" r="0.40"/><circle cx="69.4" cy="384.5" r="0.52"/><circle cx="61.0" cy="382.4" r="0.55"/><circle cx="73.2" cy="376.9" r="0.52"/><circle cx="65.4" cy="379.4" r="0.46"/><circle cx="48.1" cy="384.7" r="0.54"/><circle cx="68.9" cy="374.0" r="0.57"/><circle cx="57.5" cy="372.6" r="0.37"/><circle cx="69.0" cy="386.3" r="0.41"/><circle cx="75.0" cy="394.3" r="0.47"/><circle cx="54.1" cy="375.8" r="0.50"/><circle cx="62.2" cy="385.2" r="0.54"/><circle cx="63.0" cy="373.5" r="0.46"/><circle cx="60.8" cy="381.6" r="0.52"/><circle cx="63.0" cy="389.6" r="0.38"/><circle cx="62.1" cy="377.7" r="0.52"/><circle cx="74.5" cy="383.3" r="0.41"/><circle cx="49.7" cy="386.9" r="0.53"/><circle cx="53.3" cy="376.3" r="0.32"/><circle cx="68.1" cy="391.7" r="0.52"/><circle cx="59.0" cy="396.7" r="0.30"/><circle cx="71.0" cy="388.3" r="0.50"/><circle cx="58.3" cy="372.5" r="0.39"/><circle cx="52.0" cy="383.9" r="0.44"/><circle cx="74.5" cy="395.6" r="0.36"/><circle cx="78.8" cy="382.9" r="0.31"/><circle cx="48.7" cy="388.9" r="0.59"/><circle cx="103.2" cy="387.7" r="0.36"/><circle cx="118.0" cy="382.6" r="0.47"/><circle cx="118.4" cy="394.1" r="0.59"/><circle cx="120.8" cy="395.8" r="0.45"/><circle cx="121.3" cy="376.3" r="0.37"/><circle cx="120.0" cy="378.4" r="0.31"/><circle cx="74.8" cy="426.0" r="0.60"/><circle cx="61.1" cy="431.6" r="0.55"/><circle cx="56.9" cy="439.7" r="0.40"/><circle cx="63.2" cy="410.4" r="0.45"/><circle cx="75.7" cy="419.4" r="0.81"/><circle cx="60.6" cy="435.6" r="0.58"/><circle cx="75.9" cy="425.6" r="0.56"/><circle cx="55.2" cy="429.5" r="0.42"/><circle cx="75.3" cy="434.8" r="0.53"/><circle cx="70.8" cy="422.4" r="0.52"/><circle cx="55.8" cy="425.2" r="0.57"/><circle cx="78.2" cy="421.4" r="0.77"/><circle cx="52.2" cy="414.0" r="0.82"/><circle cx="49.6" cy="421.4" r="0.42"/><circle cx="61.9" cy="414.6" r="0.74"/><circle cx="57.6" cy="418.7" r="0.42"/><circle cx="68.4" cy="423.1" r="0.61"/><circle cx="58.0" cy="433.3" r="0.73"/><circle cx="71.5" cy="424.4" r="0.70"/><circle cx="59.2" cy="437.5" r="0.58"/><circle cx="66.4" cy="431.5" r="0.49"/><circle cx="72.9" cy="419.1" r="0.50"/><circle cx="77.0" cy="416.4" r="0.60"/><circle cx="67.8" cy="431.3" r="0.44"/><circle cx="60.3" cy="429.9" r="0.51"/><circle cx="62.4" cy="438.3" r="0.80"/><circle cx="63.1" cy="415.0" r="0.59"/><circle cx="53.0" cy="424.1" r="0.55"/><circle cx="71.2" cy="429.0" r="0.84"/><circle cx="71.4" cy="434.1" r="0.68"/><circle cx="68.2" cy="419.8" r="0.52"/><circle cx="63.2" cy="436.3" r="0.60"/><circle cx="77.8" cy="421.3" r="0.79"/><circle cx="66.1" cy="426.1" r="0.72"/><circle cx="72.2" cy="418.7" r="0.66"/><circle cx="73.5" cy="425.7" r="0.82"/><circle cx="70.2" cy="412.0" r="0.84"/><circle cx="63.2" cy="431.2" r="0.47"/><circle cx="49.4" cy="423.8" r="0.82"/><circle cx="60.7" cy="412.5" r="0.74"/><circle cx="51.1" cy="429.0" r="0.42"/><circle cx="64.7" cy="417.8" r="0.81"/><circle cx="57.5" cy="418.4" r="0.46"/><circle cx="62.9" cy="439.0" r="0.71"/><circle cx="66.5" cy="428.6" r="0.64"/><circle cx="54.1" cy="420.5" r="0.50"/><circle cx="61.7" cy="424.7" r="0.54"/><circle cx="47.2" cy="429.7" r="0.69"/><circle cx="71.7" cy="418.0" r="0.51"/><circle cx="63.4" cy="442.1" r="0.72"/><circle cx="62.2" cy="428.0" r="0.62"/><circle cx="58.2" cy="416.1" r="0.52"/><circle cx="55.1" cy="411.8" r="0.50"/><circle cx="72.6" cy="427.8" r="0.59"/><circle cx="60.0" cy="418.9" r="0.76"/><circle cx="62.3" cy="413.9" r="0.49"/><circle cx="72.3" cy="423.9" r="0.77"/><circle cx="64.0" cy="433.5" r="0.74"/><circle cx="58.6" cy="441.3" r="0.62"/><circle cx="66.1" cy="433.0" r="0.59"/><circle cx="54.8" cy="411.7" r="0.47"/><circle cx="57.1" cy="430.5" r="0.84"/><circle cx="65.5" cy="428.7" r="0.43"/><circle cx="50.7" cy="435.5" r="0.80"/><circle cx="61.3" cy="409.1" r="0.82"/><circle cx="59.7" cy="432.0" r="0.82"/><circle cx="63.0" cy="422.7" r="0.70"/><circle cx="55.7" cy="432.8" r="0.55"/><circle cx="63.5" cy="426.5" r="0.53"/><circle cx="53.4" cy="438.8" r="0.46"/><circle cx="70.5" cy="424.0" r="0.56"/><circle cx="69.7" cy="412.1" r="0.59"/><circle cx="74.0" cy="429.2" r="0.57"/><circle cx="69.5" cy="422.1" r="0.56"/><circle cx="65.4" cy="423.9" r="0.58"/><circle cx="68.6" cy="412.2" r="0.42"/><circle cx="67.2" cy="426.6" r="0.81"/><circle cx="62.5" cy="440.1" r="0.80"/><circle cx="58.5" cy="433.1" r="0.83"/><circle cx="56.8" cy="420.0" r="0.72"/><circle cx="107.8" cy="433.4" r="0.35"/><circle cx="111.6" cy="411.2" r="0.57"/><circle cx="113.4" cy="425.2" r="0.43"/><circle cx="96.1" cy="428.4" r="0.68"/><circle cx="105.2" cy="431.1" r="0.50"/><circle cx="96.2" cy="426.6" r="0.41"/><circle cx="115.4" cy="413.4" r="0.64"/><circle cx="112.8" cy="414.0" r="0.46"/><circle cx="107.2" cy="434.4" r="0.62"/><circle cx="117.2" cy="429.3" r="0.61"/><circle cx="111.2" cy="429.9" r="0.36"/><circle cx="102.7" cy="423.1" r="0.69"/><circle cx="122.6" cy="415.7" r="0.44"/><circle cx="115.3" cy="428.4" r="0.52"/><circle cx="108.5" cy="416.0" r="0.43"/><circle cx="100.5" cy="432.1" r="0.59"/><circle cx="110.9" cy="411.7" r="0.58"/><circle cx="121.4" cy="435.8" r="0.45"/><circle cx="102.5" cy="422.1" r="0.61"/><circle cx="113.5" cy="433.3" r="0.44"/><circle cx="119.4" cy="438.0" r="0.55"/><circle cx="106.6" cy="434.7" r="0.70"/><circle cx="153.0" cy="425.4" r="0.71"/><circle cx="151.6" cy="412.9" r="0.40"/><circle cx="146.5" cy="427.9" r="0.73"/><circle cx="163.2" cy="424.1" r="0.48"/><circle cx="165.5" cy="430.4" r="0.79"/><circle cx="147.4" cy="418.1" r="0.52"/><circle cx="167.5" cy="417.9" r="0.47"/><circle cx="163.2" cy="410.7" r="0.40"/><circle cx="150.3" cy="418.7" r="0.45"/><circle cx="156.5" cy="430.0" r="0.44"/><circle cx="160.1" cy="437.8" r="0.64"/><circle cx="161.0" cy="427.3" r="0.50"/><circle cx="157.6" cy="419.6" r="0.49"/><circle cx="164.5" cy="439.1" r="0.60"/><circle cx="165.1" cy="427.6" r="0.53"/><circle cx="148.6" cy="421.8" r="0.39"/><circle cx="69.7" cy="479.2" r="0.58"/><circle cx="60.5" cy="476.3" r="0.83"/><circle cx="57.5" cy="478.9" r="0.56"/><circle cx="48.8" cy="475.0" r="0.85"/><circle cx="57.5" cy="472.8" r="0.73"/><circle cx="62.8" cy="468.3" r="0.81"/><circle cx="48.8" cy="474.2" r="0.58"/><circle cx="70.9" cy="459.4" r="0.47"/><circle cx="74.9" cy="468.3" r="0.69"/><circle cx="66.7" cy="464.4" r="0.68"/><circle cx="54.1" cy="475.8" r="0.47"/><circle cx="59.9" cy="479.0" r="0.82"/><circle cx="71.6" cy="474.6" r="0.76"/><circle cx="69.7" cy="465.5" r="0.46"/><circle cx="78.0" cy="461.3" r="0.62"/><circle cx="77.8" cy="472.5" r="0.57"/><circle cx="73.4" cy="459.6" r="0.77"/><circle cx="70.4" cy="479.8" r="0.50"/><circle cx="49.6" cy="475.9" r="0.77"/><circle cx="65.6" cy="474.3" r="0.58"/><circle cx="52.0" cy="465.9" r="0.46"/><circle cx="62.7" cy="481.5" r="0.80"/><circle cx="74.7" cy="470.3" r="0.74"/><circle cx="77.4" cy="470.8" r="0.45"/><circle cx="52.2" cy="459.8" r="0.68"/><circle cx="58.6" cy="477.4" r="0.66"/><circle cx="50.1" cy="473.3" r="0.60"/><circle cx="60.0" cy="468.1" r="0.68"/><circle cx="54.2" cy="467.6" r="0.74"/><circle cx="64.5" cy="455.9" r="0.48"/><circle cx="56.9" cy="468.0" r="0.46"/><circle cx="57.8" cy="469.3" r="0.60"/><circle cx="59.0" cy="466.9" r="0.69"/><circle cx="75.0" cy="474.3" r="0.75"/><circle cx="58.5" cy="466.8" r="0.63"/><circle cx="50.5" cy="478.5" r="0.46"/><circle cx="72.9" cy="453.9" r="0.73"/><circle cx="65.4" cy="460.3" r="0.84"/><circle cx="45.9" cy="467.9" r="0.81"/><circle cx="70.0" cy="480.0" r="0.82"/><circle cx="71.6" cy="471.1" r="0.74"/><circle cx="71.1" cy="480.5" r="0.52"/><circle cx="65.0" cy="461.2" r="0.63"/><circle cx="69.2" cy="463.4" r="0.52"/><circle cx="52.9" cy="466.7" r="0.42"/><circle cx="65.2" cy="473.3" r="0.82"/><circle cx="55.6" cy="452.6" r="0.48"/><circle cx="63.6" cy="461.5" r="0.64"/><circle cx="55.8" cy="459.4" r="0.79"/><circle cx="50.3" cy="462.7" r="0.80"/><circle cx="75.7" cy="477.4" r="0.68"/><circle cx="50.5" cy="476.4" r="0.52"/><circle cx="75.2" cy="466.3" r="0.56"/><circle cx="63.4" cy="455.9" r="0.48"/><circle cx="62.3" cy="463.4" r="0.77"/><circle cx="62.1" cy="480.6" r="0.84"/><circle cx="50.6" cy="460.0" r="0.54"/><circle cx="65.5" cy="467.1" r="0.47"/><circle cx="54.1" cy="459.7" r="0.63"/><circle cx="67.3" cy="463.4" r="0.50"/><circle cx="61.0" cy="465.0" r="0.40"/><circle cx="59.0" cy="471.5" r="0.56"/><circle cx="64.5" cy="479.8" r="0.67"/><circle cx="66.2" cy="479.9" r="0.61"/><circle cx="73.2" cy="479.4" r="0.51"/><circle cx="65.5" cy="471.3" r="0.69"/><circle cx="72.7" cy="456.3" r="0.58"/><circle cx="62.2" cy="468.9" r="0.69"/><circle cx="53.2" cy="463.3" r="0.69"/><circle cx="47.1" cy="472.8" r="0.73"/><circle cx="62.6" cy="483.2" r="0.42"/><circle cx="51.8" cy="465.0" r="0.51"/><circle cx="76.3" cy="472.4" r="0.41"/><circle cx="46.8" cy="461.9" r="0.46"/><circle cx="66.5" cy="479.6" r="0.63"/><circle cx="52.8" cy="455.3" r="0.48"/><circle cx="59.0" cy="475.7" r="0.42"/><circle cx="73.9" cy="457.5" r="0.72"/><circle cx="77.9" cy="467.7" r="0.74"/><circle cx="48.2" cy="470.3" r="0.60"/><circle cx="63.2" cy="472.5" r="0.50"/><circle cx="71.9" cy="469.5" r="0.74"/><circle cx="57.1" cy="452.5" r="0.72"/><circle cx="61.1" cy="479.6" r="0.60"/><circle cx="65.3" cy="455.2" r="0.52"/><circle cx="52.0" cy="454.2" r="0.50"/><circle cx="63.9" cy="465.7" r="0.52"/><circle cx="63.7" cy="481.6" r="0.83"/><circle cx="62.2" cy="457.4" r="0.80"/><circle cx="58.5" cy="474.4" r="0.81"/><circle cx="52.8" cy="456.8" r="0.70"/><circle cx="73.9" cy="465.6" r="0.78"/><circle cx="57.3" cy="452.3" r="0.60"/><circle cx="60.4" cy="454.5" r="0.54"/><circle cx="65.6" cy="480.1" r="0.44"/><circle cx="67.8" cy="463.7" r="0.41"/><circle cx="75.2" cy="477.2" r="0.56"/><circle cx="64.2" cy="469.3" r="0.42"/><circle cx="57.7" cy="454.5" r="0.71"/><circle cx="62.0" cy="462.8" r="0.67"/><circle cx="76.0" cy="525.3" r="0.63"/><circle cx="89.1" cy="511.2" r="0.65"/><circle cx="99.7" cy="505.6" r="0.34"/><circle cx="87.3" cy="519.2" r="0.31"/><circle cx="94.4" cy="501.7" r="0.55"/><circle cx="91.8" cy="502.1" r="0.41"/><circle cx="90.0" cy="516.9" r="0.60"/><circle cx="88.4" cy="522.9" r="0.47"/><circle cx="94.1" cy="515.0" r="0.41"/><circle cx="83.7" cy="504.1" r="0.43"/><circle cx="97.3" cy="511.3" r="0.64"/><circle cx="83.6" cy="511.9" r="0.47"/><circle cx="72.4" cy="519.6" r="0.44"/><circle cx="82.4" cy="502.2" r="0.39"/><circle cx="89.0" cy="510.1" r="0.63"/><circle cx="86.1" cy="514.4" r="0.38"/><circle cx="87.1" cy="497.5" r="0.30"/><circle cx="74.2" cy="514.6" r="0.62"/><circle cx="90.5" cy="524.6" r="0.44"/><circle cx="90.0" cy="506.5" r="0.68"/><circle cx="84.2" cy="521.4" r="0.58"/><circle cx="80.3" cy="514.0" r="0.55"/><circle cx="98.7" cy="521.1" r="0.58"/><circle cx="88.8" cy="501.1" r="0.44"/><circle cx="77.3" cy="520.0" r="0.66"/><circle cx="99.2" cy="522.0" r="0.31"/><circle cx="88.1" cy="522.1" r="0.66"/><circle cx="75.6" cy="513.8" r="0.65"/><circle cx="87.0" cy="525.1" r="0.51"/><circle cx="86.2" cy="499.5" r="0.56"/><circle cx="80.3" cy="521.6" r="0.36"/><circle cx="93.3" cy="502.6" r="0.60"/><circle cx="91.1" cy="523.5" r="0.61"/><circle cx="80.6" cy="511.1" r="0.48"/><circle cx="91.9" cy="508.5" r="0.38"/><circle cx="81.4" cy="527.1" r="0.64"/><circle cx="89.5" cy="519.3" r="0.40"/><circle cx="80.2" cy="524.5" r="0.36"/><circle cx="82.4" cy="520.3" r="0.69"/><circle cx="85.1" cy="508.7" r="0.68"/><circle cx="94.1" cy="520.0" r="0.69"/><circle cx="89.8" cy="500.2" r="0.47"/><circle cx="90.2" cy="526.4" r="0.34"/><circle cx="88.6" cy="523.9" r="0.31"/><circle cx="73.9" cy="522.7" r="0.58"/><circle cx="72.6" cy="513.9" r="0.49"/><circle cx="93.9" cy="523.9" r="0.46"/><circle cx="84.9" cy="498.1" r="0.47"/><circle cx="73.0" cy="507.5" r="0.47"/><circle cx="87.7" cy="527.9" r="0.65"/><circle cx="87.9" cy="500.2" r="0.64"/><circle cx="80.1" cy="501.9" r="0.48"/><circle cx="80.7" cy="526.0" r="0.34"/><circle cx="73.0" cy="521.0" r="0.59"/><circle cx="80.1" cy="507.9" r="0.47"/></g>
<text x="85.60" y="490.30" font-size="5.3" text-anchor="middle" font-weight="bold" fill="#111">DMSO</text>
<text x="138.60" y="490.30" font-size="5.3" text-anchor="middle" font-weight="bold" fill="#111">Blank</text>
<text x="191.60" y="280.20" font-size="5.8" text-anchor="start" font-weight="bold" fill="#111" stroke="none">G</text>
<text x="252.60" y="282.00" font-size="4.9" text-anchor="middle" font-weight="bold" fill="#111">Methylene blue</text>
<text x="198.30" y="314.70" font-size="4.75" text-anchor="middle" font-weight="bold" fill="#111" transform="rotate(-90 198.30 314.70)">Inhibition%</text>
<rect x="219.90" y="307.25" width="15.70" height="34.25" fill="#ff3b3f" stroke="#111" stroke-width="0.55"/>
<line x1="227.75" y1="341.50" x2="227.75" y2="343.70" stroke="#111" stroke-width="0.85"/>
<text x="228.95" y="347.10" font-size="4.55" text-anchor="end" font-weight="bold" fill="#111" transform="rotate(-45 228.95 347.10)">Entry</text>
<rect x="244.50" y="307.25" width="15.90" height="34.25" fill="#6ac62e" stroke="#111" stroke-width="0.55"/>
<line x1="252.45" y1="341.50" x2="252.45" y2="343.70" stroke="#111" stroke-width="0.85"/>
<text x="253.65" y="347.10" font-size="4.55" text-anchor="end" font-weight="bold" fill="#111" transform="rotate(-45 253.65 347.10)">Post entry</text>
<rect x="270.00" y="307.25" width="16.40" height="34.25" fill="#ff8308" stroke="#111" stroke-width="0.55"/>
<line x1="278.20" y1="341.50" x2="278.20" y2="343.70" stroke="#111" stroke-width="0.85"/>
<text x="279.40" y="347.10" font-size="4.55" text-anchor="end" font-weight="bold" fill="#111" transform="rotate(-45 279.40 347.10)">Full Time</text>
<line x1="210.50" y1="289.15" x2="210.50" y2="341.95" stroke="#111" stroke-width="1.0"/>
<line x1="210.05" y1="341.50" x2="295.00" y2="341.50" stroke="#111" stroke-width="0.9"/>
<line x1="208.30" y1="341.50" x2="210.50" y2="341.50" stroke="#111" stroke-width="0.9"/>
<text x="207.90" y="343.10" font-size="4.4" text-anchor="end" font-weight="bold" fill="#111">0</text>
<line x1="208.30" y1="324.20" x2="210.50" y2="324.20" stroke="#111" stroke-width="0.9"/>
<text x="207.90" y="325.80" font-size="4.4" text-anchor="end" font-weight="bold" fill="#111">50</text>
<line x1="208.30" y1="306.90" x2="210.50" y2="306.90" stroke="#111" stroke-width="0.9"/>
<text x="207.90" y="308.50" font-size="4.4" text-anchor="end" font-weight="bold" fill="#111">100</text>
<line x1="208.30" y1="289.60" x2="210.50" y2="289.60" stroke="#111" stroke-width="0.9"/>
<text x="207.90" y="291.20" font-size="4.4" text-anchor="end" font-weight="bold" fill="#111">150</text>
<circle cx="223.00" cy="307.00" r="1.15" fill="#111"/>
<circle cx="227.60" cy="307.00" r="1.15" fill="#111"/>
<circle cx="232.00" cy="307.00" r="1.15" fill="#111"/>
<circle cx="248.00" cy="307.00" r="1.15" fill="#111"/>
<circle cx="252.40" cy="307.00" r="1.15" fill="#111"/>
<circle cx="257.00" cy="307.00" r="1.15" fill="#111"/>
<circle cx="273.80" cy="307.40" r="1.15" fill="#111"/>
<circle cx="278.20" cy="307.40" r="1.15" fill="#111"/>
<circle cx="282.60" cy="307.40" r="1.15" fill="#111"/>
<text x="358.00" y="282.00" font-size="4.9" text-anchor="middle" font-weight="bold" fill="#111">Cepharanthine</text>
<text x="301.70" y="314.70" font-size="4.75" text-anchor="middle" font-weight="bold" fill="#111" transform="rotate(-90 301.70 314.70)">Inhibition%</text>
<rect x="324.80" y="308.18" width="15.80" height="7.37" fill="#ff3b3f" stroke="#111" stroke-width="0.55"/>
<line x1="332.70" y1="341.60" x2="332.70" y2="343.80" stroke="#111" stroke-width="0.85"/>
<text x="333.90" y="347.20" font-size="4.55" text-anchor="end" font-weight="bold" fill="#111" transform="rotate(-45 333.90 347.20)">Entry</text>
<rect x="350.30" y="315.55" width="15.90" height="15.63" fill="#6ac62e" stroke="#111" stroke-width="0.55"/>
<line x1="358.25" y1="341.60" x2="358.25" y2="343.80" stroke="#111" stroke-width="0.85"/>
<text x="359.45" y="347.20" font-size="4.55" text-anchor="end" font-weight="bold" fill="#111" transform="rotate(-45 359.45 347.20)">Post entry</text>
<rect x="375.50" y="300.23" width="16.20" height="15.32" fill="#ff8308" stroke="#111" stroke-width="0.55"/>
<line x1="383.60" y1="341.60" x2="383.60" y2="343.80" stroke="#111" stroke-width="0.85"/>
<text x="384.80" y="347.20" font-size="4.55" text-anchor="end" font-weight="bold" fill="#111" transform="rotate(-45 384.80 347.20)">Full Time</text>
<line x1="332.70" y1="305.26" x2="332.70" y2="310.86" stroke="#3a3a3a" stroke-width="0.45"/>
<line x1="328.80" y1="305.26" x2="336.60" y2="305.26" stroke="#3a3a3a" stroke-width="0.45"/>
<line x1="328.80" y1="310.86" x2="336.60" y2="310.86" stroke="#3a3a3a" stroke-width="0.45"/>
<line x1="358.10" y1="326.23" x2="358.10" y2="337.17" stroke="#3a3a3a" stroke-width="0.45"/>
<line x1="354.20" y1="326.23" x2="362.00" y2="326.23" stroke="#3a3a3a" stroke-width="0.45"/>
<line x1="354.20" y1="337.17" x2="362.00" y2="337.17" stroke="#3a3a3a" stroke-width="0.45"/>
<line x1="383.60" y1="295.31" x2="383.60" y2="304.92" stroke="#3a3a3a" stroke-width="0.45"/>
<line x1="379.70" y1="295.31" x2="387.50" y2="295.31" stroke="#3a3a3a" stroke-width="0.45"/>
<line x1="379.70" y1="304.92" x2="387.50" y2="304.92" stroke="#3a3a3a" stroke-width="0.45"/>
<line x1="315.60" y1="289.05" x2="315.60" y2="342.05" stroke="#111" stroke-width="1.0"/>
<line x1="315.15" y1="315.55" x2="400.00" y2="315.55" stroke="#111" stroke-width="1.05"/>
<line x1="315.15" y1="341.60" x2="400.00" y2="341.60" stroke="#222" stroke-width="0.85"/>
<line x1="313.40" y1="341.60" x2="315.60" y2="341.60" stroke="#111" stroke-width="0.9"/>
<text x="313.00" y="343.20" font-size="4.4" text-anchor="end" font-weight="bold" fill="#111">-100</text>
<line x1="313.40" y1="328.58" x2="315.60" y2="328.58" stroke="#111" stroke-width="0.9"/>
<text x="313.00" y="330.18" font-size="4.4" text-anchor="end" font-weight="bold" fill="#111">-50</text>
<line x1="313.40" y1="315.55" x2="315.60" y2="315.55" stroke="#111" stroke-width="0.9"/>
<text x="313.00" y="317.15" font-size="4.4" text-anchor="end" font-weight="bold" fill="#111">0</text>
<line x1="313.40" y1="302.52" x2="315.60" y2="302.52" stroke="#111" stroke-width="0.9"/>
<text x="313.00" y="304.12" font-size="4.4" text-anchor="end" font-weight="bold" fill="#111">50</text>
<line x1="313.40" y1="289.50" x2="315.60" y2="289.50" stroke="#111" stroke-width="0.9"/>
<text x="313.00" y="291.10" font-size="4.4" text-anchor="end" font-weight="bold" fill="#111">100</text>
<circle cx="332.80" cy="305.10" r="1.15" fill="#111"/>
<circle cx="329.10" cy="310.20" r="1.15" fill="#111"/>
<circle cx="336.30" cy="310.20" r="1.15" fill="#111"/>
<circle cx="358.10" cy="325.00" r="1.15" fill="#111"/>
<circle cx="353.80" cy="335.40" r="1.15" fill="#111"/>
<circle cx="362.20" cy="335.40" r="1.15" fill="#111"/>
<circle cx="383.40" cy="295.10" r="1.15" fill="#111"/>
<circle cx="379.30" cy="304.30" r="1.15" fill="#111"/>
<circle cx="387.70" cy="303.10" r="1.15" fill="#111"/>
<text x="253.30" y="372.30" font-size="4.9" text-anchor="middle" font-weight="bold" fill="#111">Mycophenolate mofetil</text>
<text x="198.30" y="406.15" font-size="4.75" text-anchor="middle" font-weight="bold" fill="#111" transform="rotate(-90 198.30 406.15)">Inhibition%</text>
<rect x="220.70" y="398.33" width="16.00" height="5.46" fill="#ff3b3f" stroke="#111" stroke-width="0.55"/>
<line x1="228.70" y1="433.00" x2="228.70" y2="435.20" stroke="#111" stroke-width="0.85"/>
<text x="229.90" y="438.60" font-size="4.55" text-anchor="end" font-weight="bold" fill="#111" transform="rotate(-45 229.90 438.60)">Entry</text>
<rect x="246.60" y="390.66" width="16.10" height="7.67" fill="#6ac62e" stroke="#111" stroke-width="0.55"/>
<line x1="254.65" y1="433.00" x2="254.65" y2="435.20" stroke="#111" stroke-width="0.85"/>
<text x="255.85" y="438.60" font-size="4.55" text-anchor="end" font-weight="bold" fill="#111" transform="rotate(-45 255.85 438.60)">Post entry</text>
<rect x="271.60" y="390.66" width="16.30" height="7.67" fill="#ff8308" stroke="#111" stroke-width="0.55"/>
<line x1="279.75" y1="433.00" x2="279.75" y2="435.20" stroke="#111" stroke-width="0.85"/>
<text x="280.95" y="438.60" font-size="4.55" text-anchor="end" font-weight="bold" fill="#111" transform="rotate(-45 280.95 438.60)">Full Time</text>
<line x1="228.70" y1="387.67" x2="228.70" y2="420.69" stroke="#3a3a3a" stroke-width="0.45"/>
<line x1="224.80" y1="387.67" x2="232.60" y2="387.67" stroke="#3a3a3a" stroke-width="0.45"/>
<line x1="224.80" y1="420.69" x2="232.60" y2="420.69" stroke="#3a3a3a" stroke-width="0.45"/>
<line x1="211.90" y1="380.55" x2="211.90" y2="433.45" stroke="#111" stroke-width="1.0"/>
<line x1="211.45" y1="398.33" x2="296.40" y2="398.33" stroke="#111" stroke-width="1.05"/>
<line x1="211.45" y1="433.00" x2="296.40" y2="433.00" stroke="#222" stroke-width="0.85"/>
<line x1="209.70" y1="433.00" x2="211.90" y2="433.00" stroke="#111" stroke-width="0.9"/>
<text x="209.30" y="434.60" font-size="4.4" text-anchor="end" font-weight="bold" fill="#111">-400</text>
<line x1="209.70" y1="424.33" x2="211.90" y2="424.33" stroke="#111" stroke-width="0.9"/>
<text x="209.30" y="425.93" font-size="4.4" text-anchor="end" font-weight="bold" fill="#111">-300</text>
<line x1="209.70" y1="415.67" x2="211.90" y2="415.67" stroke="#111" stroke-width="0.9"/>
<text x="209.30" y="417.27" font-size="4.4" text-anchor="end" font-weight="bold" fill="#111">-200</text>
<line x1="209.70" y1="407.00" x2="211.90" y2="407.00" stroke="#111" stroke-width="0.9"/>
<text x="209.30" y="408.60" font-size="4.4" text-anchor="end" font-weight="bold" fill="#111">-100</text>
<line x1="209.70" y1="398.33" x2="211.90" y2="398.33" stroke="#111" stroke-width="0.9"/>
<text x="209.30" y="399.93" font-size="4.4" text-anchor="end" font-weight="bold" fill="#111">0</text>
<line x1="209.70" y1="389.67" x2="211.90" y2="389.67" stroke="#111" stroke-width="0.9"/>
<text x="209.30" y="391.27" font-size="4.4" text-anchor="end" font-weight="bold" fill="#111">100</text>
<line x1="209.70" y1="381.00" x2="211.90" y2="381.00" stroke="#111" stroke-width="0.9"/>
<text x="209.30" y="382.60" font-size="4.4" text-anchor="end" font-weight="bold" fill="#111">200</text>
<circle cx="228.70" cy="392.60" r="1.15" fill="#111"/>
<circle cx="228.70" cy="396.20" r="1.15" fill="#111"/>
<circle cx="228.70" cy="423.50" r="1.15" fill="#111"/>
<circle cx="249.70" cy="390.50" r="1.15" fill="#111"/>
<circle cx="254.10" cy="389.60" r="1.15" fill="#111"/>
<circle cx="258.50" cy="390.50" r="1.15" fill="#111"/>
<circle cx="275.60" cy="390.60" r="1.15" fill="#111"/>
<circle cx="279.70" cy="389.90" r="1.15" fill="#111"/>
<circle cx="283.70" cy="390.30" r="1.15" fill="#111"/>
<text x="358.00" y="372.50" font-size="4.9" text-anchor="middle" font-weight="bold" fill="#111">Mycophenolic acid</text>
<text x="301.70" y="406.10" font-size="4.75" text-anchor="middle" font-weight="bold" fill="#111" transform="rotate(-90 301.70 406.10)">Inhibition%</text>
<rect x="324.80" y="398.30" width="16.00" height="19.38" fill="#ff3b3f" stroke="#111" stroke-width="0.55"/>
<line x1="332.80" y1="432.90" x2="332.80" y2="435.10" stroke="#111" stroke-width="0.85"/>
<text x="334.00" y="438.50" font-size="4.55" text-anchor="end" font-weight="bold" fill="#111" transform="rotate(-45 334.00 438.50)">Entry</text>
<rect x="350.30" y="389.65" width="15.90" height="8.65" fill="#6ac62e" stroke="#111" stroke-width="0.55"/>
<line x1="358.25" y1="432.90" x2="358.25" y2="435.10" stroke="#111" stroke-width="0.85"/>
<text x="359.45" y="438.50" font-size="4.55" text-anchor="end" font-weight="bold" fill="#111" transform="rotate(-45 359.45 438.50)">Post entry</text>
<rect x="375.30" y="386.36" width="16.50" height="11.94" fill="#ff8308" stroke="#111" stroke-width="0.55"/>
<line x1="383.55" y1="432.90" x2="383.55" y2="435.10" stroke="#111" stroke-width="0.85"/>
<text x="384.75" y="438.50" font-size="4.55" text-anchor="end" font-weight="bold" fill="#111" transform="rotate(-45 384.75 438.50)">Full Time</text>
<line x1="332.80" y1="412.66" x2="332.80" y2="423.73" stroke="#3a3a3a" stroke-width="0.45"/>
<line x1="328.90" y1="412.66" x2="336.70" y2="412.66" stroke="#3a3a3a" stroke-width="0.45"/>
<line x1="328.90" y1="423.73" x2="336.70" y2="423.73" stroke="#3a3a3a" stroke-width="0.45"/>
<line x1="358.20" y1="387.57" x2="358.20" y2="392.42" stroke="#3a3a3a" stroke-width="0.45"/>
<line x1="354.30" y1="387.57" x2="362.10" y2="387.57" stroke="#3a3a3a" stroke-width="0.45"/>
<line x1="354.30" y1="392.42" x2="362.10" y2="392.42" stroke="#3a3a3a" stroke-width="0.45"/>
<line x1="383.50" y1="384.29" x2="383.50" y2="388.27" stroke="#3a3a3a" stroke-width="0.45"/>
<line x1="379.60" y1="384.29" x2="387.40" y2="384.29" stroke="#3a3a3a" stroke-width="0.45"/>
<line x1="379.60" y1="388.27" x2="387.40" y2="388.27" stroke="#3a3a3a" stroke-width="0.45"/>
<line x1="315.60" y1="380.55" x2="315.60" y2="433.35" stroke="#111" stroke-width="1.0"/>
<line x1="315.15" y1="398.30" x2="400.00" y2="398.30" stroke="#111" stroke-width="1.05"/>
<line x1="315.15" y1="432.90" x2="400.00" y2="432.90" stroke="#222" stroke-width="0.85"/>
<line x1="313.40" y1="432.90" x2="315.60" y2="432.90" stroke="#111" stroke-width="0.9"/>
<text x="313.00" y="434.50" font-size="4.4" text-anchor="end" font-weight="bold" fill="#111">-200</text>
<line x1="313.40" y1="424.25" x2="315.60" y2="424.25" stroke="#111" stroke-width="0.9"/>
<text x="313.00" y="425.85" font-size="4.4" text-anchor="end" font-weight="bold" fill="#111">-150</text>
<line x1="313.40" y1="415.60" x2="315.60" y2="415.60" stroke="#111" stroke-width="0.9"/>
<text x="313.00" y="417.20" font-size="4.4" text-anchor="end" font-weight="bold" fill="#111">-100</text>
<line x1="313.40" y1="406.95" x2="315.60" y2="406.95" stroke="#111" stroke-width="0.9"/>
<text x="313.00" y="408.55" font-size="4.4" text-anchor="end" font-weight="bold" fill="#111">-50</text>
<line x1="313.40" y1="398.30" x2="315.60" y2="398.30" stroke="#111" stroke-width="0.9"/>
<text x="313.00" y="399.90" font-size="4.4" text-anchor="end" font-weight="bold" fill="#111">0</text>
<line x1="313.40" y1="389.65" x2="315.60" y2="389.65" stroke="#111" stroke-width="0.9"/>
<text x="313.00" y="391.25" font-size="4.4" text-anchor="end" font-weight="bold" fill="#111">50</text>
<line x1="313.40" y1="381.00" x2="315.60" y2="381.00" stroke="#111" stroke-width="0.9"/>
<text x="313.00" y="382.60" font-size="4.4" text-anchor="end" font-weight="bold" fill="#111">100</text>
<circle cx="328.30" cy="414.40" r="1.15" fill="#111"/>
<circle cx="337.00" cy="414.40" r="1.15" fill="#111"/>
<circle cx="332.80" cy="424.50" r="1.15" fill="#111"/>
<circle cx="354.20" cy="391.30" r="1.15" fill="#111"/>
<circle cx="358.00" cy="387.80" r="1.15" fill="#111"/>
<circle cx="362.10" cy="390.00" r="1.15" fill="#111"/>
<circle cx="379.20" cy="386.70" r="1.15" fill="#111"/>
<circle cx="383.30" cy="384.80" r="1.15" fill="#111"/>
<circle cx="387.30" cy="386.70" r="1.15" fill="#111"/>
<text x="254.10" y="463.50" font-size="4.9" text-anchor="middle" font-weight="bold" fill="#111">Gemcitabine</text>
<text x="198.30" y="496.60" font-size="4.75" text-anchor="middle" font-weight="bold" fill="#111" transform="rotate(-90 198.30 496.60)">Inhibition%</text>
<rect x="220.70" y="502.64" width="16.00" height="6.02" fill="#ff3b3f" stroke="#111" stroke-width="0.55"/>
<line x1="228.70" y1="523.40" x2="228.70" y2="525.60" stroke="#111" stroke-width="0.85"/>
<text x="229.90" y="529.00" font-size="4.55" text-anchor="end" font-weight="bold" fill="#111" transform="rotate(-45 229.90 529.00)">Entry</text>
<rect x="246.50" y="482.30" width="16.10" height="20.34" fill="#6ac62e" stroke="#111" stroke-width="0.55"/>
<line x1="254.55" y1="523.40" x2="254.55" y2="525.60" stroke="#111" stroke-width="0.85"/>
<text x="255.75" y="529.00" font-size="4.55" text-anchor="end" font-weight="bold" fill="#111" transform="rotate(-45 255.75 529.00)">Post entry</text>
<rect x="271.50" y="482.30" width="16.30" height="20.34" fill="#ff8308" stroke="#111" stroke-width="0.55"/>
<line x1="279.65" y1="523.40" x2="279.65" y2="525.60" stroke="#111" stroke-width="0.85"/>
<text x="280.85" y="529.00" font-size="4.55" text-anchor="end" font-weight="bold" fill="#111" transform="rotate(-45 280.85 529.00)">Full Time</text>
<line x1="228.70" y1="500.15" x2="228.70" y2="517.17" stroke="#3a3a3a" stroke-width="0.45"/>
<line x1="224.80" y1="500.15" x2="232.60" y2="500.15" stroke="#3a3a3a" stroke-width="0.45"/>
<line x1="224.80" y1="517.17" x2="232.60" y2="517.17" stroke="#3a3a3a" stroke-width="0.45"/>
<line x1="211.80" y1="471.05" x2="211.80" y2="523.85" stroke="#111" stroke-width="1.0"/>
<line x1="211.35" y1="502.64" x2="296.40" y2="502.64" stroke="#111" stroke-width="1.05"/>
<line x1="211.35" y1="523.40" x2="296.40" y2="523.40" stroke="#222" stroke-width="0.85"/>
<line x1="209.60" y1="523.40" x2="211.80" y2="523.40" stroke="#111" stroke-width="0.9"/>
<text x="209.20" y="525.00" font-size="4.4" text-anchor="end" font-weight="bold" fill="#111">-100</text>
<line x1="209.60" y1="513.02" x2="211.80" y2="513.02" stroke="#111" stroke-width="0.9"/>
<text x="209.20" y="514.62" font-size="4.4" text-anchor="end" font-weight="bold" fill="#111">-50</text>
<line x1="209.60" y1="502.64" x2="211.80" y2="502.64" stroke="#111" stroke-width="0.9"/>
<text x="209.20" y="504.24" font-size="4.4" text-anchor="end" font-weight="bold" fill="#111">0</text>
<line x1="209.60" y1="492.26" x2="211.80" y2="492.26" stroke="#111" stroke-width="0.9"/>
<text x="209.20" y="493.86" font-size="4.4" text-anchor="end" font-weight="bold" fill="#111">50</text>
<line x1="209.60" y1="481.88" x2="211.80" y2="481.88" stroke="#111" stroke-width="0.9"/>
<text x="209.20" y="483.48" font-size="4.4" text-anchor="end" font-weight="bold" fill="#111">100</text>
<line x1="209.60" y1="471.50" x2="211.80" y2="471.50" stroke="#111" stroke-width="0.9"/>
<text x="209.20" y="473.10" font-size="4.4" text-anchor="end" font-weight="bold" fill="#111">150</text>
<circle cx="228.70" cy="502.10" r="1.15" fill="#111"/>
<circle cx="228.70" cy="506.30" r="1.15" fill="#111"/>
<circle cx="228.70" cy="518.20" r="1.15" fill="#111"/>
<circle cx="249.80" cy="482.10" r="1.15" fill="#111"/>
<circle cx="254.20" cy="482.10" r="1.15" fill="#111"/>
<circle cx="258.60" cy="482.10" r="1.15" fill="#111"/>
<circle cx="275.30" cy="482.20" r="1.15" fill="#111"/>
<circle cx="279.60" cy="482.20" r="1.15" fill="#111"/>
<circle cx="284.00" cy="482.20" r="1.15" fill="#111"/>
</svg>
</body></html>
